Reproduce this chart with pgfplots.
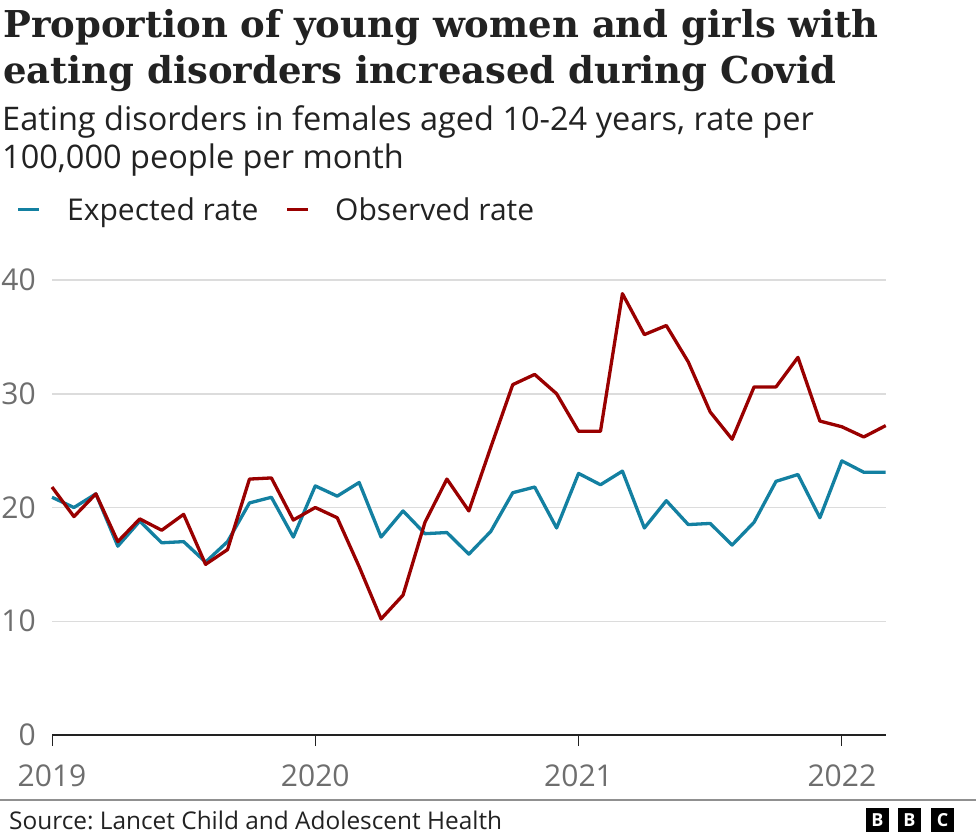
\documentclass[border=0pt]{standalone}
\usepackage{fontspec}
\setmainfont{Open Sans}
\newfontfamily\titlefont{DejaVu Serif}
\usepackage{pgfplots}
\pgfplotsset{compat=1.18}
\frenchspacing

\definecolor{expblue}{HTML}{1380A1}
\definecolor{obsred}{HTML}{990000}
\definecolor{txt}{HTML}{222222}
\definecolor{tickgray}{HTML}{6E6E6E}
\definecolor{gridgray}{HTML}{DCDCDC}
\definecolor{rulegray}{HTML}{909090}

\newcommand{\px}[1]{\fontsize{#1}{#1}\selectfont}

\begin{document}
\begin{tikzpicture}
\path[use as bounding box] (0pt,0pt) rectangle (976pt,-838pt);

% title and subtitle
\node[anchor=base west, inner sep=0pt, text=txt, font=\titlefont\bfseries\px{37}] at (3pt,-37pt) {Proportion of young women and girls with};
\node[anchor=base west, inner sep=0pt, text=txt, font=\titlefont\bfseries\px{37}] at (3pt,-83pt) {eating disorders increased during Covid};
\node[anchor=base west, inner sep=0pt, text=txt, font=\px{32.5}] at (2pt,-130pt) {Eating disorders in females aged 10-24 years, rate per};
\node[anchor=base west, inner sep=0pt, text=txt, font=\px{32.5}] at (2pt,-168pt) {100,000 people per month};

% legend
\draw[expblue, line width=3pt] (18pt,-209pt) -- (39pt,-209pt);
\node[anchor=base west, inner sep=0pt, text=txt, font=\px{30}] at (67pt,-220pt) {Expected rate};
\draw[obsred, line width=3pt] (287pt,-209pt) -- (308pt,-209pt);
\node[anchor=base west, inner sep=0pt, text=txt, font=\px{30}] at (335pt,-220pt) {Observed rate};

\begin{axis}[
    at={(52pt,-735pt)}, anchor=south west,
    scale only axis,
    width=833.7pt, height=455pt,
    xmin=0, xmax=38, ymin=0, ymax=40,
    axis x line*=bottom, axis y line*=left,
    x axis line style={line width=2pt, color=txt},
    y axis line style={draw=none},
    xtick={0,12,24,36},
    xticklabels={2019,2020,2021,2022},
    ytick={0,10,20,30,40},
    ymajorgrids,
    grid style={gridgray, line width=1.5pt},
    xtick align=outside, ytick align=inside,
    major tick length=11pt,
    xtick style={draw=txt, line width=1pt},
    ytick style={draw=none},
    /pgf/number format/assume math mode=true,
    tick label style={font=\px{30}, text=tickgray},
    yticklabel style={anchor=east, inner sep=0pt, xshift=-16pt},
    xticklabel style={anchor=base, inner sep=0pt, yshift=-40pt},
    clip=false,
]

% expected rate
\addplot[expblue, line width=3.3pt, line join=round] coordinates {
    (0,20.9) (1,20.0) (2,21.2) (3,16.6) (4,18.8) (5,16.9) (6,17.0) (7,15.2)
    (8,17.0) (9,20.4) (10,20.9) (11,17.4) (12,21.9) (13,21.0) (14,22.2) (15,17.4)
    (16,19.7) (17,17.7) (18,17.8) (19,15.9) (20,17.9) (21,21.3) (22,21.8) (23,18.2)
    (24,23.0) (25,22.0) (26,23.2) (27,18.2) (28,20.6) (29,18.5) (30,18.6) (31,16.7)
    (32,18.7) (33,22.3) (34,22.9) (35,19.1) (36,24.1) (37,23.1) (38,23.1)
};

% observed rate
\addplot[obsred, line width=3.3pt, line join=round] coordinates {
    (0,21.8) (1,19.2) (2,21.2) (3,17.0) (4,19.0) (5,18.0) (6,19.4) (7,15.0)
    (8,16.3) (9,22.5) (10,22.6) (11,18.9) (12,20.0) (13,19.1) (14,14.8) (15,10.2)
    (16,12.3) (17,18.7) (18,22.5) (19,19.7) (20,25.3) (21,30.8) (22,31.7) (23,30.0)
    (24,26.7) (25,26.7) (26,38.8) (27,35.2) (28,36.0) (29,32.8) (30,28.4) (31,26.0)
    (32,30.6) (33,30.6) (34,33.2) (35,27.6) (36,27.1) (37,26.2) (38,27.2)
};
\end{axis}

% footer
\draw[rulegray, line width=1.5pt] (0pt,-800pt) -- (976pt,-800pt);
\node[anchor=base west, inner sep=0pt, text=txt, font=\px{24.4}] at (9pt,-829pt) {Source: Lancet Child and Adolescent Health};
\foreach \bx/\letter in {866/B, 898/B, 931/C} {
  \fill[black] (\bx pt,-808pt) rectangle ++(23pt,-24pt);
  \node[text=white, font=\bfseries\px{18}, inner sep=0pt] at (\bx pt+11.5pt,-820pt) {\letter};
}
\end{tikzpicture}
\end{document}
